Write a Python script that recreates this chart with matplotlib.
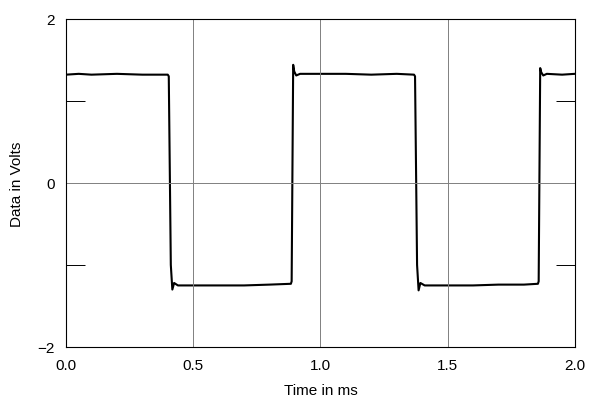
import matplotlib
matplotlib.use("Agg")
import matplotlib.pyplot as plt
plt.rcParams['font.family'] = ['Liberation Sans', 'DejaVu Sans']

time_ms = [0.0, 0.05, 0.1, 0.2, 0.3, 0.4, 0.404, 0.412, 0.418, 0.425, 0.44, 0.5, 0.6, 0.7, 0.8, 0.884,
           0.887, 0.893, 0.897, 0.905, 0.92, 1.0, 1.1, 1.2, 1.3, 1.368, 1.372, 1.38, 1.386, 1.393, 1.41,
           1.5, 1.6, 1.7, 1.8, 1.855, 1.858, 1.864, 1.868, 1.876, 1.89, 1.95, 2.0]
volts = [1.32, 1.33, 1.32, 1.33, 1.32, 1.32, 1.30, -1.0, -1.30, -1.22, -1.25, -1.25, -1.25, -1.25, -1.24, -1.23,
         -1.2, 1.44, 1.36, 1.31, 1.33, 1.33, 1.33, 1.32, 1.33, 1.32, 1.30, -1.0, -1.31, -1.22, -1.25,
         -1.25, -1.25, -1.24, -1.24, -1.23, -1.2, 1.40, 1.35, 1.31, 1.33, 1.32, 1.33]

fig = plt.figure(figsize=(6, 4.06), dpi=100)
ax = fig.add_axes([0.11, 0.143, 0.848, 0.808])
ax.plot(time_ms, volts, color="black", lw=1.5)
ax.set_xlim(0, 2)
ax.set_ylim(-2, 2)
ax.set_xticks([0, 0.5, 1.0, 1.5, 2.0])
ax.set_xticklabels(["0.0", "0.5", "1.0", "1.5", "2.0"])
ax.set_yticks([-2, 0, 2])
ax.set_yticks([-1, 1], minor=True)
for v in [0.5, 1.0, 1.5]:
    ax.axvline(v, color="gray", lw=0.7)
ax.axhline(0, color="gray", lw=0.7)
ax.tick_params(which="both", direction="in", top=True, right=True, labelsize=11, pad=8)
ax.tick_params(which="major", length=0)
ax.tick_params(which="minor", length=14, color="black", width=0.7)
ax.set_xlabel("Time in ms", fontsize=11, labelpad=8)
ax.set_ylabel("Data in Volts", fontsize=11, labelpad=10)
fig.savefig("out.png")
